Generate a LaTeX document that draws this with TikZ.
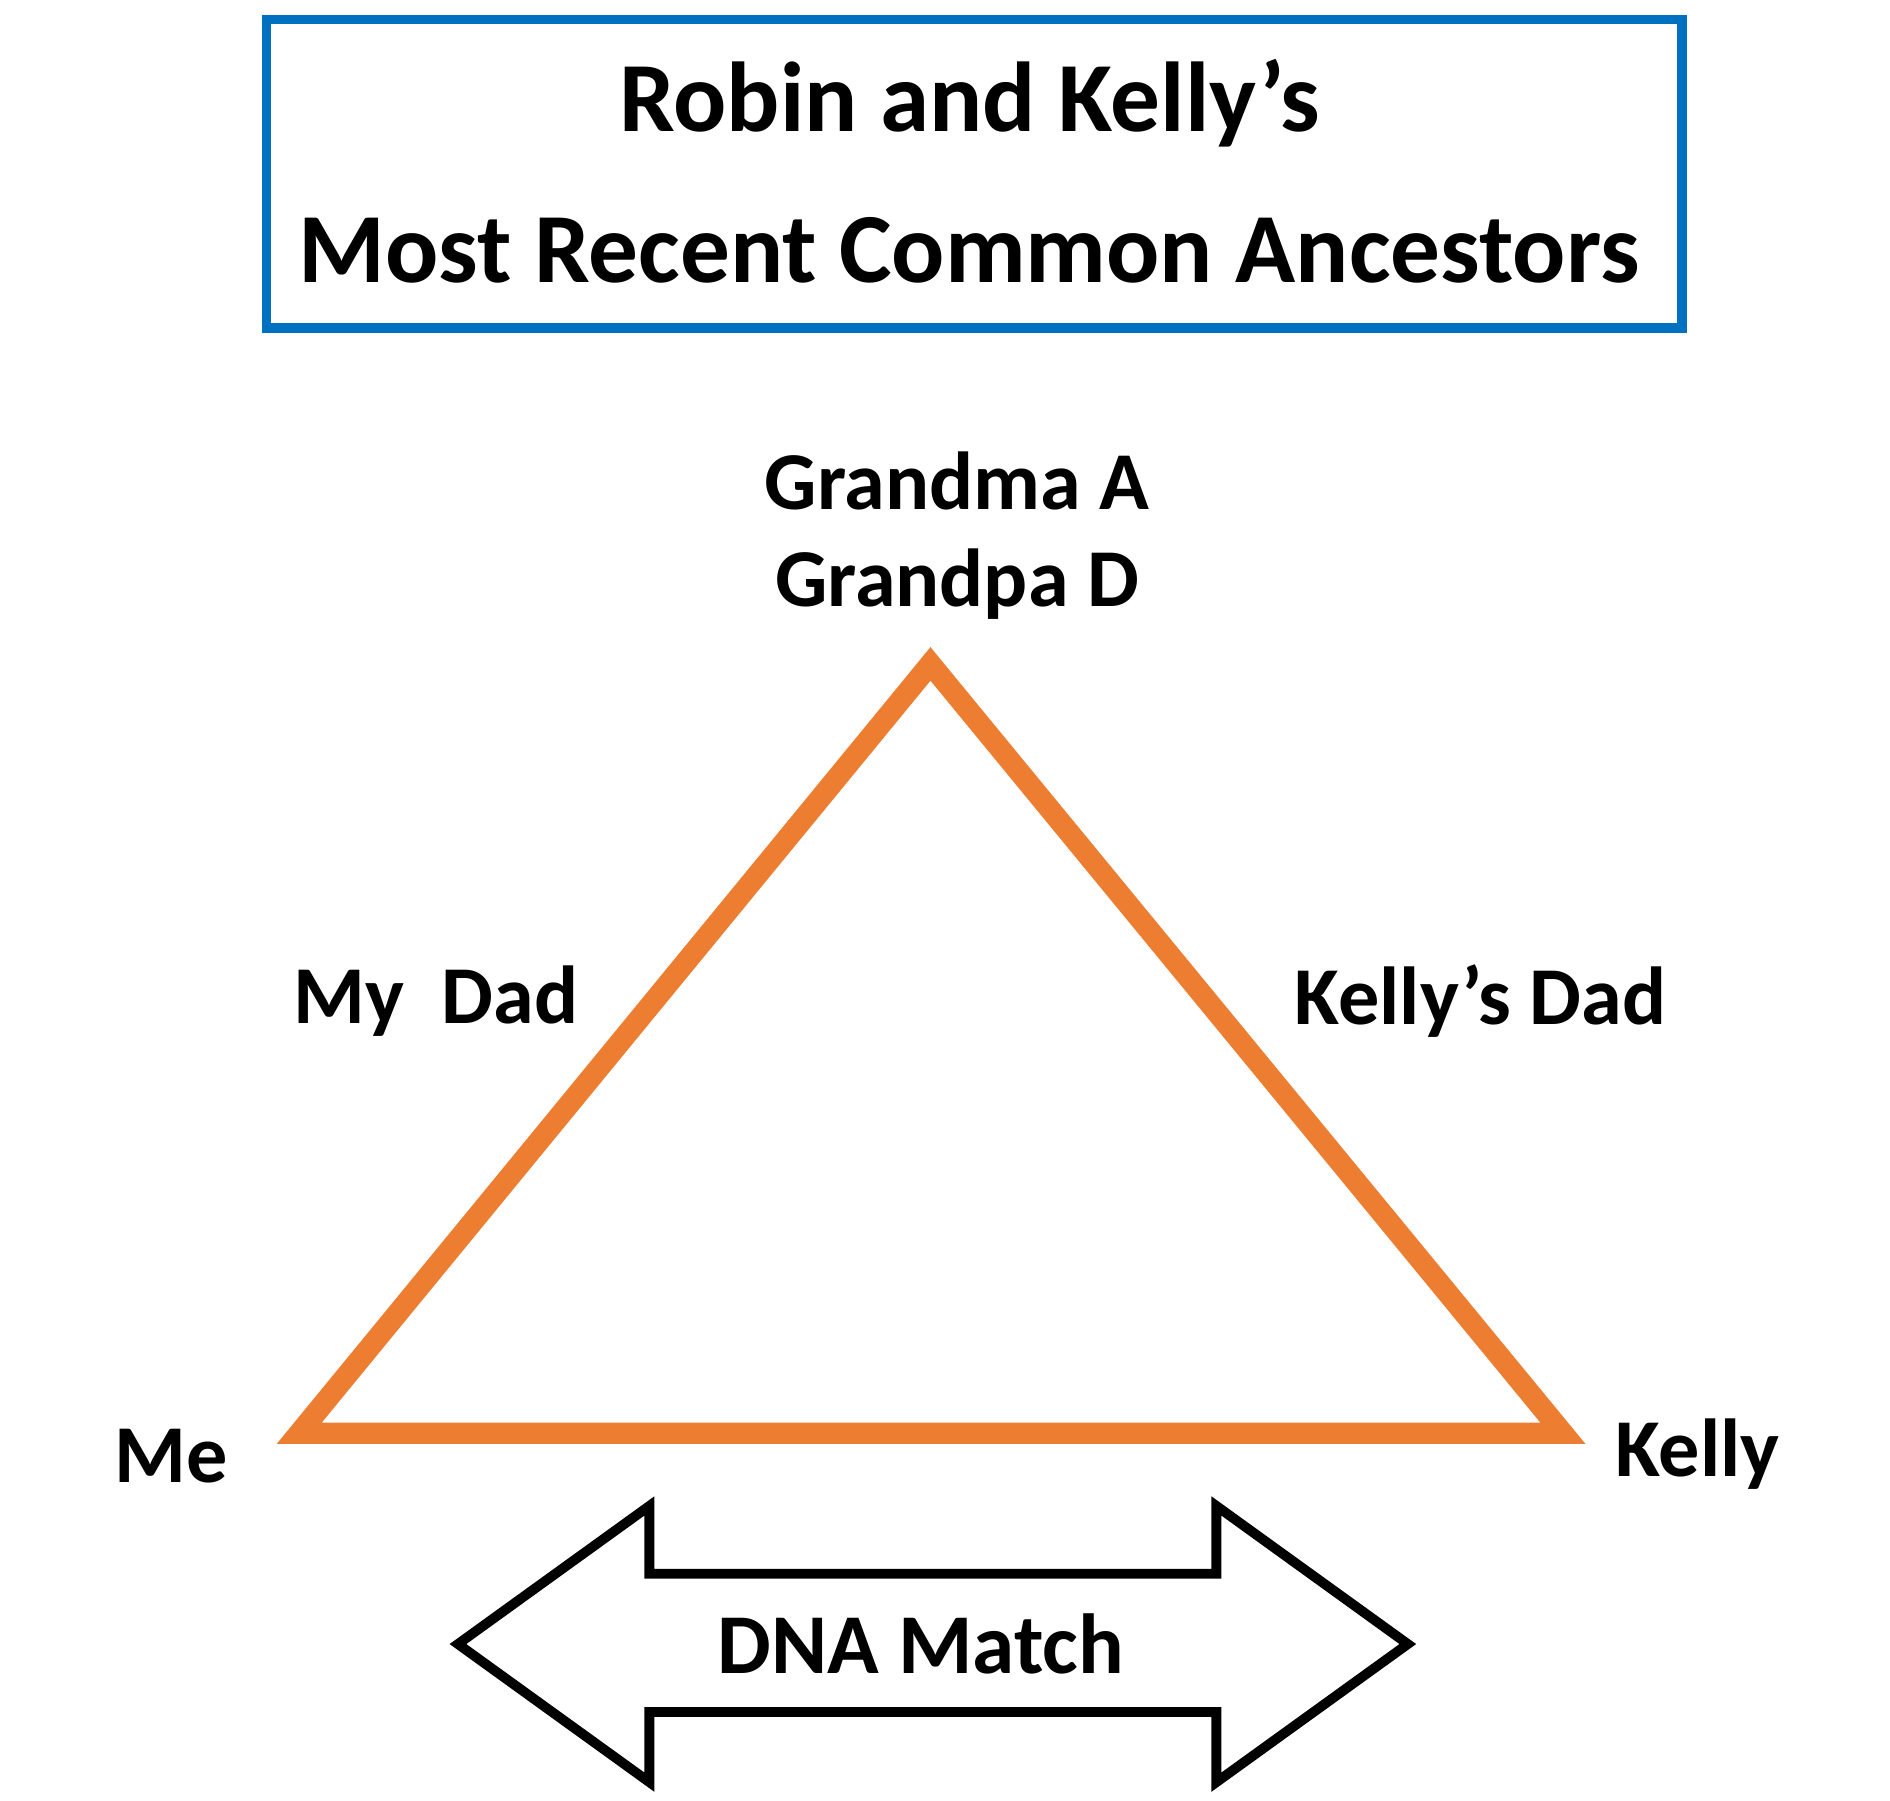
\documentclass[tikz,border=0pt]{standalone}
\usepackage{fontspec}
\setmainfont{Carlito}
\definecolor{bx}{RGB}{0,112,192}
\definecolor{tri}{RGB}{237,125,49}
\tikzset{lbl/.style={font=\fontsize{19.3}{23}\selectfont\bfseries,inner sep=0pt}}
\begin{document}
\begin{tikzpicture}[x=0.01cm,y=-0.01cm]
\useasboundingbox (0,0) rectangle (1560,1486);
\node[draw=bx,line width=2.3pt,minimum width=1168*0.01cm,minimum height=255*0.01cm,anchor=north west,inner sep=0pt] (title) at (216,12) {};
\node[lbl,font=\fontsize{23.3}{28}\selectfont\bfseries] (t1) at (800,85) {Robin and Kelly’s};
\node[lbl,font=\fontsize{23.3}{28}\selectfont\bfseries] (t2) at (800,207) {Most Recent Common Ancestors};
\coordinate (A) at (768,548);
\coordinate (L) at (247,1183);
\coordinate (R) at (1290,1183);
\draw[tri,line width=5pt,line join=miter] (A) -- (L) -- (R) -- cycle;
\node[lbl] (ga) at (790,397) {Grandma A};
\node[lbl] (gp) at (790,482) {Grandpa D};
\node[lbl] (md) at (360,826) {My\ \ Dad};
\node[lbl] (ke2) at (1222,826) {Kelly’s Dad};
\node[lbl] (me) at (141,1202) {Me};
\node[lbl] (ke) at (1401,1200) {Kelly};
\draw[line width=2.3pt,line join=miter] (378,1357) -- (536,1243) -- (536,1299) -- (1004,1299) -- (1004,1243) -- (1162,1357) -- (1004,1471) -- (1004,1413) -- (536,1413) -- (536,1471) -- cycle;
\node[lbl,font=\fontsize{20}{24}\selectfont\bfseries] (dna) at (760,1357) {DNA Match};
\end{tikzpicture}
\end{document}
